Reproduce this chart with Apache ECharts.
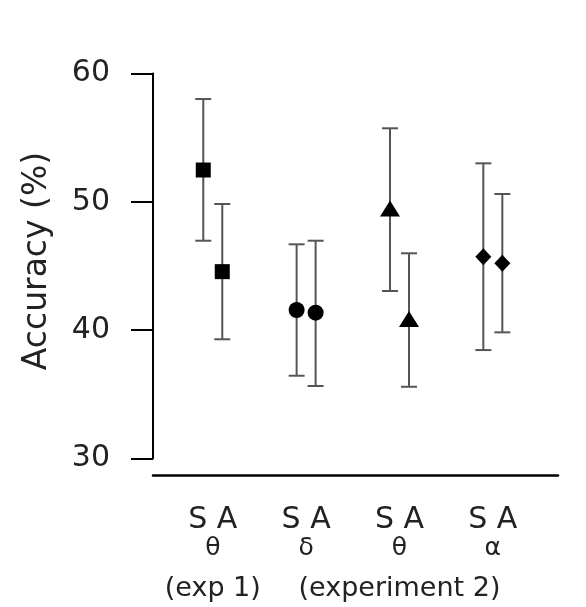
<!DOCTYPE html>
<html>
<head>
<meta charset="utf-8">
<script src="https://cdn.jsdelivr.net/npm/echarts@6/dist/echarts.min.js"></script>
<style>
  html, body { margin: 0; padding: 0; background: #fff; }
  #chart { width: 586px; height: 607px; }
</style>
</head>
<body>
<div id="chart"></div>
<script>
// categories along x: one pair of points (S, A) per condition
const categories = ['exp1-theta', 'exp2-delta', 'exp2-theta', 'exp2-alpha'];
const subscripts = ['θ', 'δ', 'θ', 'α'];
const groupLabels = ['(exp 1)', '', '(experiment 2)', ''];
const markerShapes = ['rect', 'circle', 'triangle', 'diamond'];

// accuracy (%)
const meanS = [52.48, 41.57, 49.48, 45.72];
const lowS = [46.97, 36.45, 43.05, 38.45];
const highS = [58.01, 46.69, 55.73, 53.00];

const meanA = [44.56, 41.36, 40.87, 45.21];
const lowA = [39.29, 35.65, 35.59, 39.83];
const highA = [49.83, 46.97, 45.99, 50.61];

const yTicks = [30, 40, 50, 60];

const FONT = 'DejaVu Sans';
const PAIR_DX = 9.5;
const markerSizes = { rect: 15, circle: 16, triangle: [20, 16], diamond: [16, 17] };

function pointSeries(name, means, dx) {
    return {
        type: 'scatter',
        name: name,
        z: 3,
        symbolOffset: [dx, 0],
        itemStyle: { color: '#000', opacity: 1 },
        data: means.map((v, i) => ({
            value: [i, v],
            symbol: markerShapes[i],
            symbolSize: markerSizes[markerShapes[i]]
        }))
    };
}

function errorBarSeries(name, lows, highs, dx) {
    return {
        type: 'custom',
        name: name,
        z: 2,
        data: lows.map((lo, i) => [i, lo, highs[i]]),
        encode: { x: 0, y: [1, 2] },
        renderItem(params, api) {
            const lo = api.coord([api.value(0), api.value(1)]);
            const hi = api.coord([api.value(0), api.value(2)]);
            const x = lo[0] + dx;
            const half = 8;
            const style = { stroke: '#555', lineWidth: 2 };
            return {
                type: 'group',
                children: [
                    { type: 'line', shape: { x1: x, y1: lo[1], x2: x, y2: hi[1] }, style },
                    { type: 'line', shape: { x1: x - half, y1: hi[1], x2: x + half, y2: hi[1] }, style },
                    { type: 'line', shape: { x1: x - half, y1: lo[1], x2: x + half, y2: lo[1] }, style }
                ]
            };
        }
    };
}

const chart = echarts.init(document.getElementById('chart'));

chart.setOption({
    animation: false,
    backgroundColor: '#fff',
    grid: [
        { left: 166.1, right: 46.5, top: 73.5, bottom: 148.5 },
        { left: 153, right: 28, top: 73.5, bottom: 132 }
    ],
    xAxis: [
        {
            type: 'category',
            gridIndex: 0,
            data: categories,
            axisLine: { show: false },
            axisTick: { show: false },
            splitLine: { show: false },
            axisLabel: {
                interval: 0,
                margin: 47,
                color: '#222',
                fontFamily: FONT,
                formatter: (value, index) =>
                    '{sa|S A}\n{sub|' + subscripts[index] + '}\n{grp|' + (groupLabels[index] || ' ') + '}',
                rich: {
                    sa: { fontSize: 30, lineHeight: 30, fontFamily: FONT, color: '#222' },
                    sub: { fontSize: 25, lineHeight: 26, fontFamily: FONT, color: '#222' },
                    grp: { fontSize: 27, lineHeight: 54, fontFamily: FONT, color: '#222' }
                }
            }
        },
        {
            // long baseline under the plot
            type: 'value',
            gridIndex: 1,
            min: 0,
            max: 1,
            axisLine: { show: true, lineStyle: { color: '#000', width: 2.5 } },
            axisTick: { show: false },
            axisLabel: { show: false },
            splitLine: { show: false }
        }
    ],
    yAxis: [
        {
            type: 'value',
            gridIndex: 0,
            min: yTicks[0],
            max: yTicks[yTicks.length - 1],
            interval: 10,
            offset: 13.1,
            name: 'Accuracy (%)',
            nameLocation: 'middle',
            nameGap: 99,
            nameTextStyle: { fontSize: 33, fontFamily: FONT, color: '#222', padding: [0, 0, 0, 10] },
            axisLine: { show: true, lineStyle: { color: '#000', width: 2 } },
            axisTick: { show: true, length: 22, lineStyle: { color: '#000', width: 2 } },
            axisLabel: { margin: 43, fontSize: 30, fontFamily: FONT, color: '#222' },
            splitLine: { show: false }
        },
        {
            type: 'value',
            gridIndex: 1,
            show: false
        }
    ],
    series: [
        errorBarSeries('S', lowS, highS, -PAIR_DX),
        errorBarSeries('A', lowA, highA, PAIR_DX),
        pointSeries('S', meanS, -PAIR_DX),
        pointSeries('A', meanA, PAIR_DX)
    ]
});
</script>
</body>
</html>
